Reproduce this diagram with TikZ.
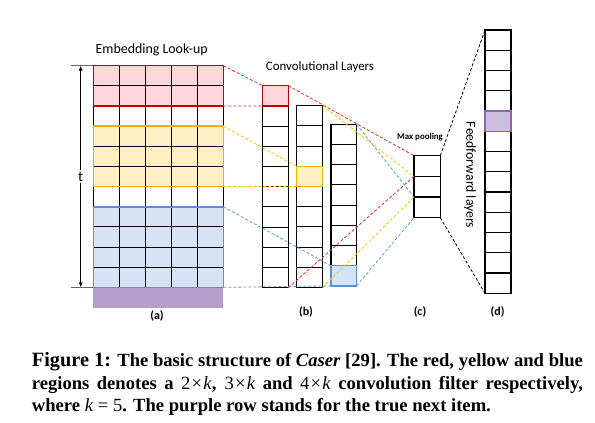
\documentclass[tikz,border=0pt]{standalone}
\usepackage{fontspec}
\setmainfont{Liberation Serif}
\newfontfamily\carl{Carlito}
\usetikzlibrary{arrows.meta}
\definecolor{redfill}{HTML}{FFD6D9}
\definecolor{redline}{HTML}{C00000}
\definecolor{yelfill}{HTML}{FFF0C4}
\definecolor{yelline}{HTML}{EBB400}
\definecolor{blufill}{HTML}{D6E2F5}
\definecolor{bluline}{HTML}{5B8FD6}
\definecolor{purfill}{HTML}{B59EC9}
\definecolor{ffpurfill}{HTML}{CDBDDE}
\definecolor{ffpurline}{HTML}{8B65A8}
\definecolor{dashred}{HTML}{E02828}
\definecolor{dashyel}{HTML}{FFC000}
\definecolor{dashblu}{HTML}{5B9BD5}
\newcommand{\tms}{\kern1.2pt×\kern1.2pt}
\tikzset{
  cellbox/.style={draw=black, line width=1.1pt, inner sep=0pt, outer sep=0pt, anchor=north west, minimum width=25.6pt, minimum height=20.2pt},
  regionbox/.style={inner sep=0pt, outer sep=0pt, anchor=north west, minimum width=130pt},
  gridline/.style={draw=black, line width=1.1pt},
  conn/.style={dash pattern=on 3pt off 2pt, line width=0.8pt},
  lbl/.style={font=\carl\fontsize{12.9}{15}\selectfont, inner sep=0pt},
  sublbl/.style={font=\carl\bfseries\fontsize{12}{14}\selectfont, inner sep=0pt},
  capline/.style={anchor=base west, inner sep=0pt, font=\bfseries\fontsize{18.6}{22}\selectfont}
}
\begin{document}
\begin{tikzpicture}[x=1pt,y=-1pt]
\useasboundingbox (0,0) rectangle (595,423);
% ---------- Embedding look-up ----------
\node[regionbox, fill=redfill, minimum height=40.3pt] (red) at (93.3,65.7) {};
\node[regionbox, fill=yelfill, minimum height=60.45pt] (yel) at (93.3,126.15) {};
\node[regionbox, fill=blufill, minimum height=80.6pt] (blu) at (93.3,206.75) {};
\node[regionbox, fill=purfill, minimum height=20.15pt] (pur) at (93.3,287.35) {};
\foreach \r in {0,...,11} \draw[gridline] (93.3,{65.7+20.15*\r}) -- (223.3,{65.7+20.15*\r});
\foreach \c in {0,...,5} \draw[gridline] ({93.3+26*\c},65.7) -- ({93.3+26*\c},287.35);
\draw[redline, line width=1.5pt] (red.north west) rectangle (red.south east);
\draw[yelline, line width=1.5pt] (yel.north west) rectangle (yel.south east);
\draw[bluline, line width=1.5pt] (blu.north west) rectangle (blu.south east);
\node[lbl, font=\carl\fontsize{13.9}{16}\selectfont] (emblbl) at (151.7,50) {Embedding Look-up};
% t arrow
\coordinate (ttop) at (80.7,65.7);
\coordinate (tbot) at (80.7,287.35);
\coordinate (tickTL) at (70.7,65.7);
\coordinate (tickBL) at (70.7,287.35);
\draw[gray!80!black, line width=0.9pt] (tickTL) -- (red.north west);
\draw[gray!80!black, line width=0.9pt] (tickBL) -- (blu.south west);
\draw[line width=0.8pt, {Latex[length=5pt,width=4pt]}-{Latex[length=5pt,width=4pt]}] (ttop) -- (tbot);
\node[lbl, fill=white, inner sep=1.5pt, font=\carl\fontsize{15}{17}\selectfont] (tlbl) at (80.7,176.7) {t};
\node[sublbl] (la) at (157,316) {(a)};
% ---------- Convolutional layers ----------
\foreach \i in {0,...,9} \node[cellbox] (ba-\i) at (262.7,{85.7+20.2*\i}) {};
\node[cellbox, fill=redfill, draw=redline, line width=1.5pt] (ba-0) at (262.7,85.7) {};
\foreach \i in {0,...,8} \node[cellbox, minimum width=26pt] (bb-\i) at (296.7,{105.7+20.2*\i}) {};
\node[cellbox, minimum width=26pt, fill=yelfill, draw=yelline, line width=1.5pt] (bb-3) at (296.7,{105.7+20.2*3}) {};
\foreach \i in {0,...,7} \node[cellbox] (bc-\i) at (331,{124.3+20.2*\i}) {};
\node[cellbox, fill=blufill, draw=bluline, line width=1.2pt] (bc-7) at (331,{124.3+20.2*7}) {};
\node[lbl] (convlbl) at (320,66.7) {Convolutional Layers};
\node[sublbl] (lb) at (306,311.7) {(b)};
% ---------- Max pooling ----------
\foreach \i in {0,...,2} \node[cellbox, minimum width=26.3pt, minimum height=20.67pt] (mp-\i) at (414,{155.7+20.67*\i}) {};
\node[sublbl, font=\carl\bfseries\fontsize{8.9}{10}\selectfont] (mplbl) at (420,136.7) {Max pooling};
\node[sublbl] (lc) at (420,311.7) {(c)};
% ---------- Feedforward ----------
\foreach \i in {0,...,12} \node[cellbox, minimum width=26pt, minimum height=20.25pt] (ff-\i) at (485,{30+20.25*\i}) {};
\node[cellbox, minimum width=26pt, minimum height=20.25pt, fill=ffpurfill, draw=ffpurline, line width=1.3pt] (ff-4) at (485,{30+20.25*4}) {};
\node[lbl, font=\carl\fontsize{13.7}{16}\selectfont, rotate=-90] (fflbl) at (470,175) {Feedforward layers};
\node[sublbl] (ld) at (497.7,311.7) {(d)};
% ---------- Connectors ----------
\draw[conn, dashred] (red.north east) -- (ba-0.north west);
\draw[conn, dashred] (red.south east) -- (ba-0.south west);
\draw[conn, dashred] (ba-0.north east) -- (mp-0.north west);
\draw[conn, dashred] (ba-9.south east) -- (mp-0.south west);
\draw[conn, dashyel] (yel.north east) -- (bb-3.north west);
\draw[conn, dashyel] (yel.south east) -- (bb-3.south west);
\draw[conn, dashyel] (bb-0.north east) -- (mp-1.north west);
\draw[conn, dashyel] (bb-8.south east) -- (mp-1.south west);
\draw[conn, dashblu] (blu.north east) -- (bc-7.north west);
\draw[conn, dashblu] (blu.south east) -- (bc-7.south west);
\draw[conn, dashblu] (bc-0.north east) -- (mp-1.south west);
\draw[conn, dashblu] (bc-7.south east) -- (mp-2.south west);
\draw[conn, black] (mp-0.north east) -- (ff-0.north west);
\draw[conn, black] (mp-2.south east) -- (ff-12.south west);
% ---------- Caption ----------
\node[capline] (cap1) at (31.7,366.7) {\makebox[551pt][s]{{\fontsize{20.3}{22}\selectfont Figure 1:} The basic structure of \textit{Caser} [29]. The red, yellow and blue}};
\node[capline] (cap2) at (31.7,389.3) {\makebox[551pt][s]{regions denotes a {\mdseries 2\tms\textit{k}}, {\mdseries 3\tms\textit{k}} and {\mdseries 4\tms\textit{k}} convolution filter respectively,}};
\node[capline] (cap3) at (31.7,411) {where {\mdseries\textit{k} = 5}. The purple row stands for the true next item.};
\end{tikzpicture}
\end{document}
